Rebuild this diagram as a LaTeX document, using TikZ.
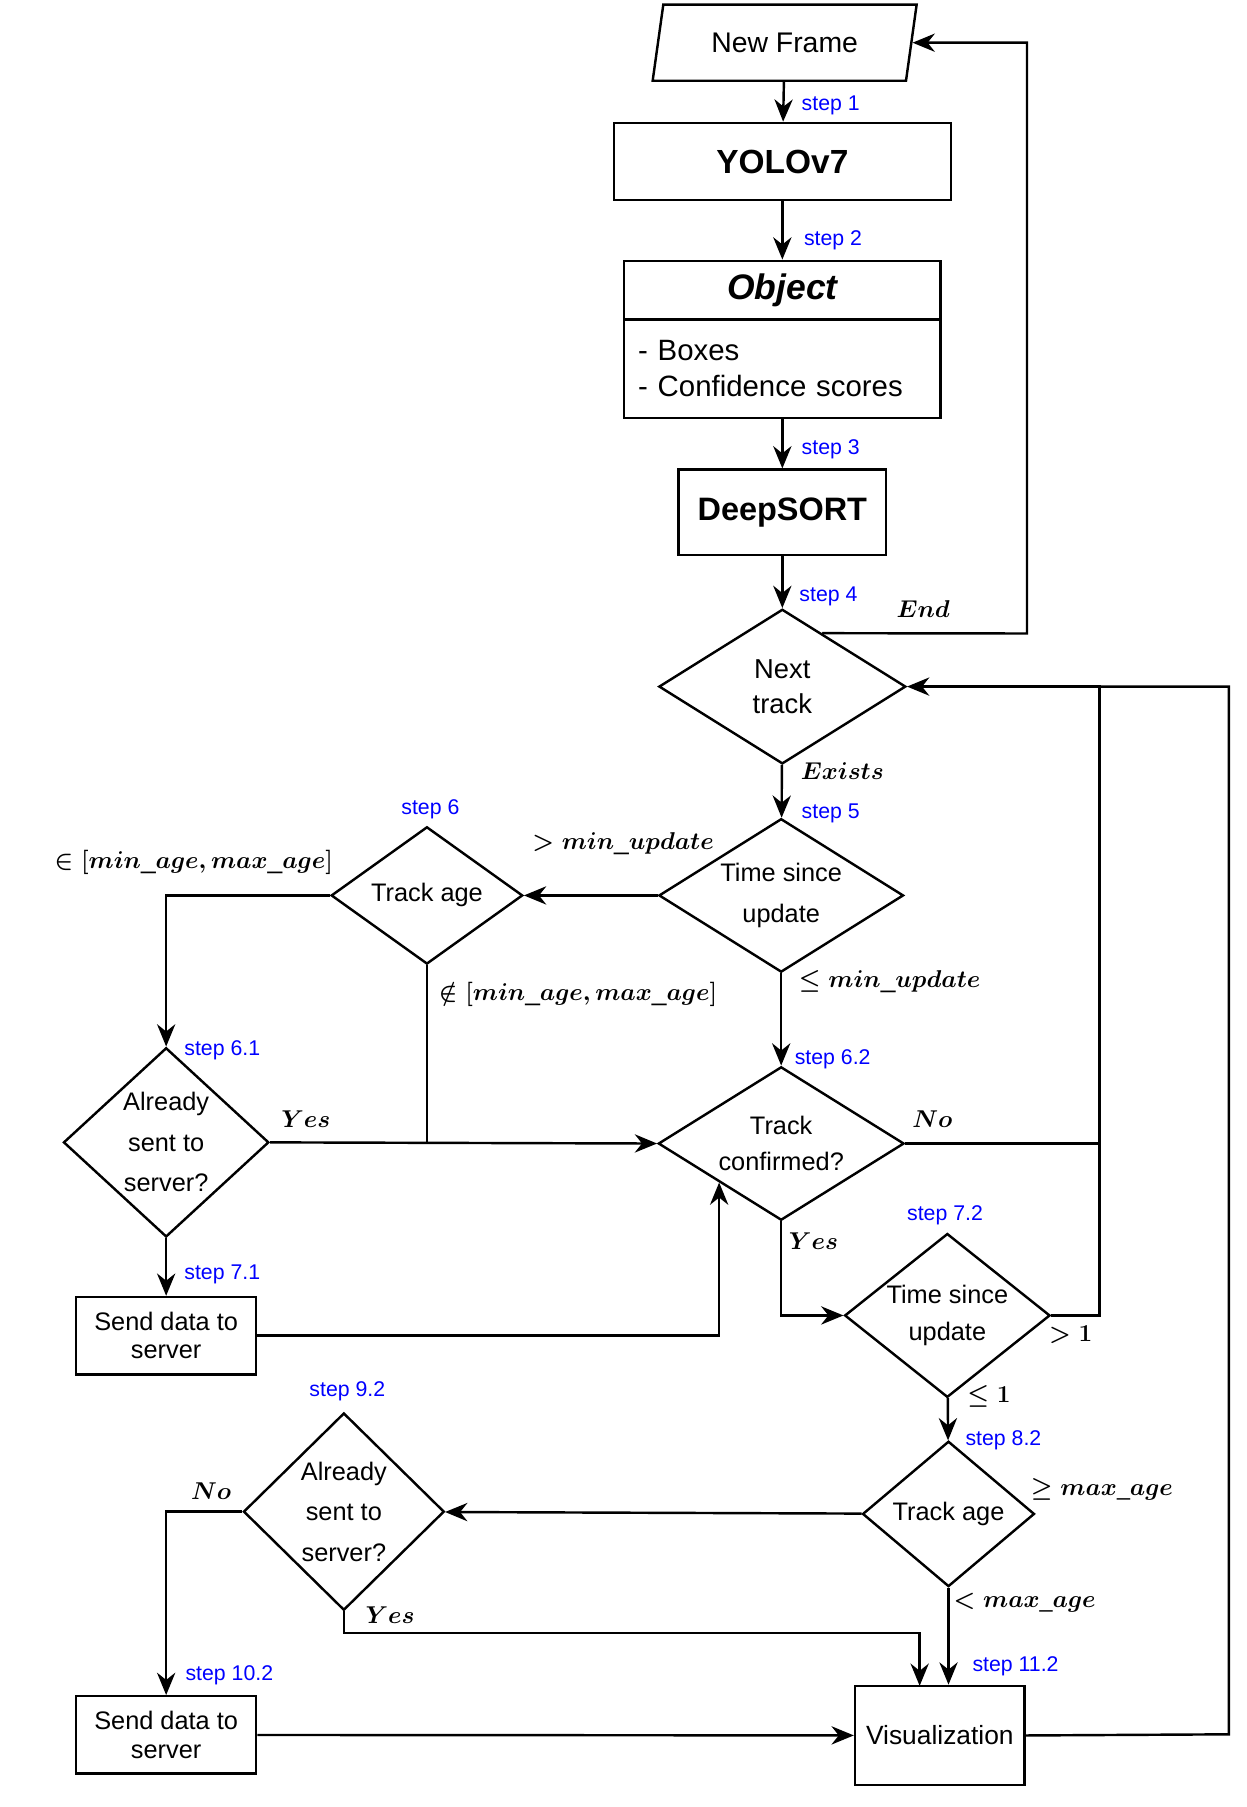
\documentclass[tikz,border=0pt]{standalone}
\usepackage{fontspec}
\setmainfont{Liberation Sans}
\usetikzlibrary{positioning}
\usetikzlibrary{shapes.geometric}
\usetikzlibrary{calc}
\usetikzlibrary{arrows.meta}
\begin{document}
\begin{tikzpicture}[x=0.02cm, y=-0.02cm, line width=1.2pt,
    box/.style={rectangle, draw, inner sep=0pt, align=center},
    dia/.style={diamond, draw, inner sep=-12pt, align=center, font=\fontsize{12.5}{20}\selectfont},
    st/.style={text=blue, font=\fontsize{10.5}{12}\selectfont, anchor=west, inner sep=1pt},
    lb/.style={font=\fontsize{13}{15}\selectfont\boldmath, inner sep=1pt},
    ar/.style={-{Stealth[length=11pt, width=9pt]}}]
    \useasboundingbox (0,0) rectangle (1080,1566);

    \node[trapezium, draw, trapezium left angle=72, trapezium right angle=108,
          minimum width=229*0.02cm, minimum height=66*0.02cm, inner sep=0pt,
          trapezium stretches=true, font=\fontsize{14}{16}\selectfont] (nf) at (680,37) {New Frame};
    \node[box, minimum width=292*0.02cm, minimum height=67*0.02cm, font=\fontsize{16.5}{18}\selectfont\bfseries] (yolo) at (678,140) {YOLOv7};
    \node[box, minimum width=274*0.02cm, minimum height=51*0.02cm, font=\fontsize{17.5}{19}\selectfont\bfseries\itshape] (objh) at (678,251.5) {Object};
    \node[box, minimum width=274*0.02cm, minimum height=85*0.02cm, align=left, text width=250*0.02cm, font=\fontsize{14.5}{17.5}\selectfont] (objb) at (678,319.5) {- Boxes\\- Confidence scores};
    \node[box, minimum width=180*0.02cm, minimum height=74*0.02cm, font=\fontsize{16}{18}\selectfont\bfseries] (ds) at (678,444) {DeepSORT};

    \node[dia, minimum width=214*0.02cm, minimum height=134*0.02cm, font=\fontsize{13.5}{17}\selectfont] (nt) at (678,595) {Next\\track};
    \node[dia, minimum width=212*0.02cm, minimum height=133*0.02cm] (tsu) at (677,776) {Time since\\update};
    \node[dia, minimum width=166*0.02cm, minimum height=119*0.02cm] (ta) at (370,776) {Track age};
    \node[dia, minimum width=178*0.02cm, minimum height=164*0.02cm] (as) at (144,990) {Already\\sent to\\server?};
    \node[dia, minimum width=213*0.02cm, minimum height=133*0.02cm, font=\fontsize{12.5}{18}\selectfont] (tc) at (677,991) {Track\\confirmed?};
    \node[box, minimum width=156*0.02cm, minimum height=67*0.02cm, font=\fontsize{12.5}{14}\selectfont] (sd) at (144,1157.5) {Send data to\\server};
    \node[dia, minimum width=178*0.02cm, minimum height=142*0.02cm, font=\fontsize{12.5}{18}\selectfont] (tsb) at (821,1140) {Time since\\update};
    \node[dia, minimum width=149*0.02cm, minimum height=126*0.02cm] (tab) at (822,1312) {Track age};
    \node[dia, minimum width=174*0.02cm, minimum height=171*0.02cm] (asb) at (298,1310) {Already\\sent to\\server?};
    \node[box, minimum width=156*0.02cm, minimum height=67*0.02cm, font=\fontsize{12.5}{14}\selectfont] (sdb) at (144,1503.5) {Send data to\\server};
    \node[box, minimum width=147*0.02cm, minimum height=86*0.02cm, font=\fontsize{13}{15}\selectfont] (vis) at (814.5,1504) {Visualization};

    \coordinate (ntend) at ($(nt.north)!0.32!(nt.east)$);
    \coordinate (tcin) at ($(tc.west)!0.5!(tc.south)$);

    % main column
    \draw[ar] (nf) -- (yolo);
    \draw[ar] (yolo) -- (objh);
    \draw[ar] (objb) -- (ds);
    \draw[ar] (ds) -- (nt);
    \draw[ar] (ntend) -- (890,549) -- (890,37) -- (nf.east);
    \draw[ar] (nt) -- (tsu);
    \draw[ar] (tsu) -- (ta);
    \draw[ar] (ta.west) -| (as.north);
    \draw (ta.south) -- (370,991);
    \draw[ar] (as.east) -- (tc.west);
    \draw[ar] (tsu) -- (tc);
    \draw[ar] (as) -- (sd);
    \draw[ar] (sd.east) -| (tcin);
    \draw[ar] (tc.east) -- (953,991) -- (953,595) -- (nt.east);
    \draw[ar] (tc.south) |- (tsb.west);
    \draw (tsb.east) -- (953,1140) -- (953,991);
    \draw[ar] (tsb) -- (tab);
    \draw[ar] (tab) -- (asb);
    \draw[ar] (tab) -- (vis.north -| tab.south);
    \draw[ar] (asb.south) -- (298,1415) -| (797,1461);
    \draw[ar] (asb.west) -| (sdb.north);
    \draw[ar] (sdb) -- (vis);
    \draw (vis.east) -- (1065,1503) -- (1065,595) -- (953,595);

    % step labels
    \node[st] at (692,91) {step 1};
    \node[st] at (694,208) {step 2};
    \node[st] at (692,389) {step 3};
    \node[st] at (690,517) {step 4};
    \node[st] at (692,705) {step 5};
    \node[st, anchor=center] at (373,701) {step 6};
    \node[st] at (157,910) {step 6.1};
    \node[st] at (686,918) {step 6.2};
    \node[st] at (157,1104) {step 7.1};
    \node[st, anchor=center] at (819,1053) {step 7.2};
    \node[st] at (834,1248) {step 8.2};
    \node[st, anchor=center] at (301,1206) {step 9.2};
    \node[st] at (158,1452) {step 10.2};
    \node[st] at (840,1444) {step 11.2};

    % condition labels
    \node[lb] at (800,528) {$End$};
    \node[lb] at (730,668) {$Exists$};
    \node[lb] at (540,731) {$>min\_update$};
    \node[lb] at (168,747) {$\in[min\_age,max\_age]$};
    \node[lb] at (501,862) {$\notin[min\_age,max\_age]$};
    \node[lb] at (771,851) {$\leq min\_update$};
    \node[lb] at (265,970) {$Yes$};
    \node[lb] at (808,970) {$No$};
    \node[lb] at (705,1076) {$Yes$};
    \node[lb] at (928,1157) {$>1$};
    \node[lb] at (857,1210) {$\leq 1$};
    \node[lb, font=\fontsize{11.5}{14}\selectfont\boldmath] at (955,1291) {$\geq max\_age$};
    \node[lb, font=\fontsize{11.5}{14}\selectfont\boldmath] at (888,1389) {$<max\_age$};
    \node[lb] at (183,1292) {$No$};
    \node[lb] at (338,1400) {$Yes$};
\end{tikzpicture}
\end{document}
